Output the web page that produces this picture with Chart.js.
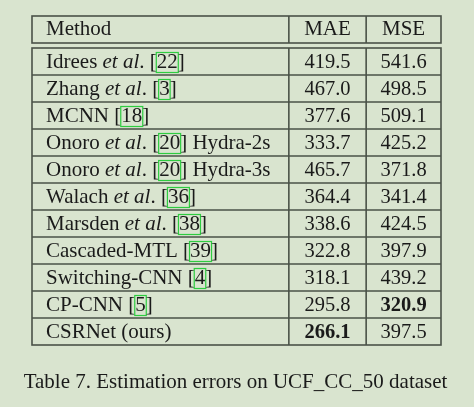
<!DOCTYPE html><html><head><meta charset="utf-8">
<script src="https://cdn.jsdelivr.net/npm/chart.js@4"></script>
<style>html,body{margin:0;padding:0;background:#d9e4cf;}#w{width:474px;height:407px;}</style></head><body>
<div id="w"><canvas id="c"></canvas></div>
<script>
const methods=["Idrees *et al*. [22]","Zhang *et al*. [3]","MCNN [18]","Onoro *et al*. [20] Hydra-2s","Onoro *et al*. [20] Hydra-3s","Walach *et al*. [36]","Marsden *et al*. [38]","Cascaded-MTL [39]","Switching-CNN [4]","CP-CNN [5]","CSRNet (ours)"];
const mae=["419.5","467.0","377.6","333.7","465.7","364.4","338.6","322.8","318.1","295.8","266.1"];
const mse=["541.6","498.5","509.1","425.2","371.8","341.4","424.5","397.9","439.2","320.9","397.5"];
const headers=["Method","MAE","MSE"];
const bestMae=10, bestMse=9;
const caption="Table 7. Estimation errors on UCF_CC_50 dataset";
const FONT='"Liberation Serif", serif';
const ink='#1a1a1a', line='#4a5248';
const MF='21px ';
function richText(ctx,s,x,y){
  const parts=s.split(/(\*[^*]+\*|\[[^\]]+\])/).filter(p=>p);
  for(const p of parts){
    if(p.startsWith('*')){ctx.font='italic '+MF+FONT;const t=p.slice(1,-1);ctx.fillText(t,x,y);x+=ctx.measureText(t).width;}
    else if(p.startsWith('[')){ctx.font=MF+FONT;const t=p.slice(1,-1);
      const wb=ctx.measureText('[').width;ctx.fillText('[',x,y);x+=wb;const w=ctx.measureText(t).width;
      ctx.fillText(t,x,y);ctx.save();ctx.strokeStyle='#2ecc40';ctx.lineWidth=1.2;ctx.strokeRect(x-0.5,y-10,w+1,20);ctx.restore();x+=w;
      ctx.fillText(']',x,y);x+=ctx.measureText(']').width;}
    else {ctx.font=MF+FONT;ctx.fillText(p,x,y);x+=ctx.measureText(p).width;}
  }
}
const tablePlugin={id:'table',afterDraw(chart){
  const ctx=chart.ctx,xs=chart.scales.x,ys=chart.scales.y;
  const L=xs.getPixelForValue(0),R=xs.getPixelForValue(1),c1=xs.getPixelForValue(0.628),c2=xs.getPixelForValue(0.817);
  const cm1=(c1+c2)/2,cm2=(c2+R)/2;
  const top=chart.chartArea.top,bot=chart.chartArea.bottom;
  const rh=(bot-top)/methods.length;
  ctx.save();ctx.strokeStyle=line;ctx.lineWidth=1.6;ctx.fillStyle=ink;ctx.textBaseline='middle';
  const hT=top-32,hB=top-5;
  ctx.strokeRect(L,hT,R-L,hB-hT);
  ctx.beginPath();ctx.moveTo(c1,hT);ctx.lineTo(c1,hB);ctx.moveTo(c2,hT);ctx.lineTo(c2,hB);ctx.stroke();
  const hy=(hT+hB)/2;
  ctx.font=MF+FONT;ctx.textAlign='left';ctx.fillText(headers[0],L+14,hy);
  ctx.textAlign='center';ctx.fillText(headers[1],cm1,hy);ctx.fillText(headers[2],cm2,hy);
  ctx.strokeRect(L,top,R-L,bot-top);
  ctx.beginPath();ctx.moveTo(c1,top);ctx.lineTo(c1,bot);ctx.moveTo(c2,top);ctx.lineTo(c2,bot);
  for(let i=1;i<methods.length;i++){const y=top+i*rh;ctx.moveTo(L,y);ctx.lineTo(R,y);}
  ctx.stroke();
  methods.forEach((m,i)=>{
    const y=ys.getPixelForValue(i)+1;
    ctx.textAlign='left';richText(ctx,m,L+14,y);
    ctx.textAlign='center';
    ctx.font=(i===bestMae?'bold ':'')+'20.5px '+FONT;ctx.fillText(mae[i],cm1,y);
    ctx.font=(i===bestMse?'bold ':'')+'20.5px '+FONT;ctx.fillText(mse[i],cm2,y);
  });
  ctx.font='21px '+FONT;ctx.textAlign='center';ctx.fillText(caption,(L+R)/2-1,382);
  ctx.restore();
}};
new Chart(document.getElementById('c'),{type:'scatter',
  data:{labels:methods,datasets:[{data:[],pointRadius:0}]},
  options:{responsive:true,maintainAspectRatio:false,animation:false,
    layout:{padding:{left:32,right:33,top:48,bottom:62}},
    plugins:{legend:{display:false},tooltip:{enabled:false}},
    scales:{x:{type:'linear',min:0,max:1,display:false},
      y:{type:'category',labels:methods,offset:true,display:false}}},
  plugins:[tablePlugin]});
</script></body></html>
